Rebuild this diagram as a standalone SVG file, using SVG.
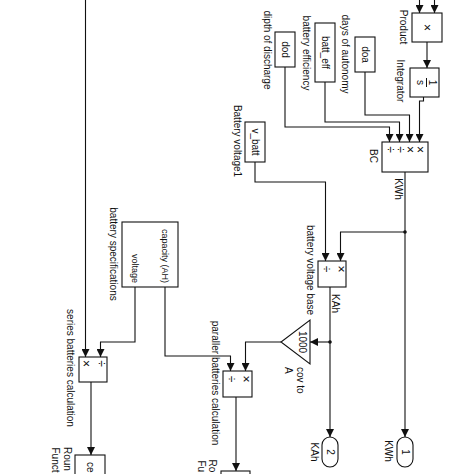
<svg xmlns="http://www.w3.org/2000/svg" width="474" height="474" viewBox="0 0 474 474">
<style>
.blk{fill:#fff;stroke:#111;stroke-width:1.1}
.wire{fill:none;stroke:#111;stroke-width:1.1}
.t{font-family:"Liberation Sans",Arial,sans-serif;font-size:10px;fill:#111;text-anchor:middle;dominant-baseline:central}
.s{text-anchor:start}
.e{text-anchor:end}
.p{font-size:9px}
.ic{font-size:12px}
</style>
<defs>
<marker id="arr" markerWidth="8" markerHeight="8" refX="8" refY="4" orient="auto" markerUnits="userSpaceOnUse"><path d="M0,0 L8,4 L0,8 z" fill="#111"/></marker>
</defs>
<rect width="474" height="474" fill="#fff"/>

<g id="connectors">
<path class="wire" d="M85.5,0 V357" marker-end="url(#arr)"/>
<path class="wire" d="M419.5,0 V13" marker-end="url(#arr)"/>
<path class="wire" d="M434.5,0 V13" marker-end="url(#arr)"/>
<path class="wire" d="M427,42 V68" marker-end="url(#arr)"/>
<path class="wire" d="M423.5,97 V101 H419.5 V142" marker-end="url(#arr)"/>
<path class="wire" d="M365,72 V115 H409.5 V142" marker-end="url(#arr)"/>
<path class="wire" d="M325,82 V122 H399.5 V142" marker-end="url(#arr)"/>
<path class="wire" d="M285,67 V127 H389.5 V142" marker-end="url(#arr)"/>
<path class="wire" d="M255,162 V182 H325.5 V261" marker-end="url(#arr)"/>
<path class="wire" d="M405,172 V437" marker-end="url(#arr)"/>
<path class="wire" d="M405,232 H340.5 V261" marker-end="url(#arr)"/>
<circle cx="405" cy="232" r="1.8" fill="#111"/>
<path class="wire" d="M330,287 V437" marker-end="url(#arr)"/>
<path class="wire" d="M330,342 H310" marker-end="url(#arr)"/>
<circle cx="330" cy="342" r="1.8" fill="#111"/>
<path class="wire" d="M281,342 H245.5 V371" marker-end="url(#arr)"/>
<path class="wire" d="M165,287 V356 H230.5 V371" marker-end="url(#arr)"/>
<path class="wire" d="M135,287 V342 H100.5 V357" marker-end="url(#arr)"/>
<path class="wire" d="M91,382 V455" marker-end="url(#arr)"/>
<path class="wire" d="M236,397 V471" marker-end="url(#arr)"/>
</g>

<g id="product">
<rect class="blk" x="412" y="13" width="30" height="29"/>
<text class="t ic" transform="translate(427,27.5) rotate(90)">×</text>
<text class="t" transform="translate(403,27) rotate(90)">Product</text>
</g>

<g id="integrator">
<rect class="blk" x="410" y="68" width="29" height="29"/>
<text class="t" transform="translate(432,82.5) rotate(90)">1</text>
<line x1="426.5" y1="78" x2="426.5" y2="87" stroke="#111" stroke-width="1"/>
<text class="t" transform="translate(420.5,82.5) rotate(90)">s</text>
<text class="t" transform="translate(400.5,81) rotate(90)">Integrator</text>
</g>

<g id="bc">
<rect class="blk" x="382" y="142" width="46" height="30"/>
<text class="t ic" transform="translate(389.5,149.5) rotate(90)">÷</text>
<text class="t ic" transform="translate(399.5,149.5) rotate(90)">÷</text>
<text class="t ic" transform="translate(409.5,149.5) rotate(90)">×</text>
<text class="t ic" transform="translate(419.5,149.5) rotate(90)">×</text>
<text class="t" transform="translate(373,156) rotate(90)">BC</text>
<text class="t" transform="translate(398.5,189) rotate(90)">KWh</text>
</g>

<g id="doa">
<rect class="blk" x="355" y="37" width="20" height="35"/>
<text class="t" transform="translate(365,54.5) rotate(90)">doa</text>
<text class="t" transform="translate(345,54) rotate(90)">days of autonomy</text>
</g>

<g id="batt_eff">
<rect class="blk" x="315" y="23" width="20" height="59"/>
<text class="t" transform="translate(325,52.5) rotate(90)">batt_eff</text>
<text class="t" transform="translate(306,53) rotate(90)">battery efficiency</text>
</g>

<g id="dod">
<rect class="blk" x="275" y="32" width="20" height="35"/>
<text class="t" transform="translate(285,49.5) rotate(90)">dod</text>
<text class="t" transform="translate(267,50) rotate(90)">dipth of discharge</text>
</g>

<g id="v_batt">
<rect class="blk" x="245" y="122" width="20" height="40"/>
<text class="t" transform="translate(255,142) rotate(90)">v_batt</text>
<text class="t" transform="translate(237,141) rotate(90)">Battery voltage1</text>
</g>

<g id="battery_voltage_base">
<rect class="blk" x="318" y="261" width="28" height="26"/>
<text class="t ic" transform="translate(325.5,269) rotate(90)">÷</text>
<text class="t ic" transform="translate(340.5,269) rotate(90)">×</text>
<text class="t" transform="translate(310,270) rotate(90)">battery voltage base</text>
<text class="t" transform="translate(335.5,303.5) rotate(90)">KAh</text>
</g>

<g id="gain">
<polygon class="blk" points="310,320 310,364 281,342"/>
<text class="t" transform="translate(302,342) rotate(90)">1000</text>
<text class="t s" transform="translate(300,367) rotate(90)">cov to</text>
<text class="t s" transform="translate(288,367) rotate(90)">A</text>
</g>

<g id="battery_specifications">
<rect class="blk" x="122" y="222" width="56" height="65"/>
<text class="t p e" transform="translate(165,283) rotate(90)">capacity (AH)</text>
<text class="t p e" transform="translate(135,283) rotate(90)">voltage</text>
<text class="t" transform="translate(113,254) rotate(90)">battery specifications</text>
</g>

<g id="series_batteries_calculation">
<rect class="blk" x="79" y="357" width="28" height="25"/>
<text class="t ic" transform="translate(86,363.5) rotate(90)">×</text>
<text class="t ic" transform="translate(100.5,363.5) rotate(90)">÷</text>
<text class="t" transform="translate(70,368) rotate(90)">series batteries calculation</text>
</g>

<g id="paraller_batteries_calculation">
<rect class="blk" x="223" y="371" width="29" height="26"/>
<text class="t ic" transform="translate(230.5,379) rotate(90)">÷</text>
<text class="t ic" transform="translate(245.5,379) rotate(90)">×</text>
<text class="t" transform="translate(215,383) rotate(90)">paraller batteries calculation</text>
</g>

<g id="rounding_function_1">
<rect class="blk" x="75" y="455" width="30" height="30"/>
<text class="t s" transform="translate(90,462) rotate(90)">ce</text>
<text class="t s" transform="translate(67,447) rotate(90)">Roun</text>
<text class="t s" transform="translate(55,447.5) rotate(90)">Funct</text>
</g>

<g id="rounding_function_2">
<rect class="blk" x="221" y="471" width="29" height="30"/>
<text class="t s" transform="translate(212,459.5) rotate(90)">Ro</text>
<text class="t s" transform="translate(201,460.5) rotate(90)">Fu</text>
</g>

<g id="out_kah">
<rect class="blk" x="322" y="437" width="16" height="30" rx="8" ry="8"/>
<text class="t" transform="translate(330,452) rotate(90)">2</text>
<text class="t" transform="translate(314,452) rotate(90)">KAh</text>
</g>

<g id="out_kwh">
<rect class="blk" x="397" y="437" width="16" height="30" rx="8" ry="8"/>
<text class="t" transform="translate(405,452) rotate(90)">1</text>
<text class="t" transform="translate(388,451) rotate(90)">KWh</text>
</g>
</svg>
